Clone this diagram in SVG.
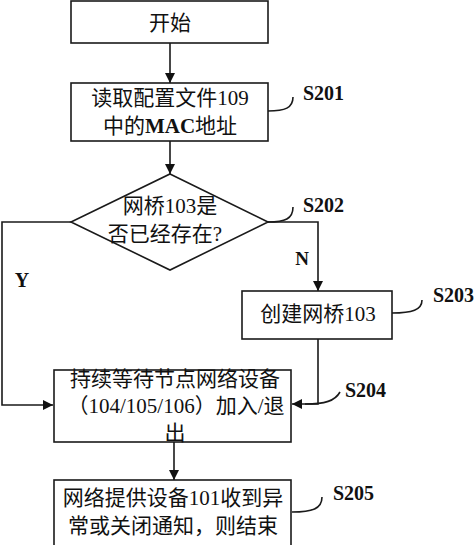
<svg xmlns="http://www.w3.org/2000/svg" width="474" height="545" viewBox="0 0 474 545">
<defs>
<style>
.box{fill:#fff;stroke:#1a1a1a;stroke-width:1.6}
.ln{fill:none;stroke:#1a1a1a;stroke-width:1.6}
.t{font-family:"Liberation Serif","Noto Sans CJK SC",serif;font-size:21px;fill:#111;text-anchor:middle}
.lbl{font-family:"Liberation Serif",serif;font-size:20px;font-weight:bold;fill:#111}
</style>
<marker id="ah" viewBox="0 0 10 10" refX="10" refY="5" markerWidth="10" markerHeight="10" markerUnits="userSpaceOnUse" orient="auto">
<path d="M0,0 L10,5 L0,10 Z" fill="#111"/>
</marker>
</defs>
<rect width="474" height="545" fill="#fff"/>
<g id="connectors">
<path class="ln" d="M170,43 V83" marker-end="url(#ah)"/>
<path class="ln" d="M170,141 V174" marker-end="url(#ah)"/>
<path class="ln" d="M71,222 H2 V405 H53" marker-end="url(#ah)"/>
<path class="ln" d="M268,222 H318 V291" marker-end="url(#ah)"/>
<path class="ln" d="M318,339 V404 H292" marker-end="url(#ah)"/>
<path class="ln" d="M174,442 V480" marker-end="url(#ah)"/>
<text class="lbl" x="22" y="287" text-anchor="middle">Y</text>
<text class="lbl" x="302" y="265" text-anchor="middle" style="font-size:19px">N</text>
</g>
<g id="n1">
<rect class="box" x="71" y="1" width="197" height="42"/>
<text class="t" x="170" y="30">开始</text>
</g>
<g id="n2">
<rect class="box" x="71" y="83" width="197" height="58"/>
<text class="t" x="170" y="105">读取配置文件109</text>
<text class="t" x="170" y="133">中的<tspan font-weight="bold">MAC</tspan>地址</text>
<path class="ln" d="M268,111 C285,111 293,108 293,97"/>
<text class="lbl" x="303" y="100">S201</text>
</g>
<g id="n3">
<polygon class="box" points="170,174 268,222 170,270 71,222"/>
<text class="t" x="170" y="213">网桥103是</text>
<text class="t" x="165" y="241">否已经存在?</text>
<path class="ln" d="M268,222 C285,222 293,219 293,207"/>
<text class="lbl" x="303" y="212">S202</text>
</g>
<g id="n4">
<rect class="box" x="242" y="291" width="150" height="48"/>
<text class="t" x="318" y="321">创建网桥103</text>
<path class="ln" d="M392,313 C412,313 422,310 422,300"/>
<text class="lbl" x="433" y="302">S203</text>
</g>
<g id="n5">
<rect class="box" x="54" y="370" width="237" height="72"/>
<text class="t" x="175" y="386">持续等待节点网络设备</text>
<text class="t" x="176" y="413">（104/105/106）加入/退</text>
<text class="t" x="175" y="440">出</text>
<path class="ln" d="M305,404 C325,404 335,401 340,392"/>
<text class="lbl" x="345" y="397">S204</text>
</g>
<g id="n6">
<rect class="box" x="54" y="480" width="237" height="70"/>
<text class="t" x="173" y="505">网络提供设备101收到异</text>
<text class="t" x="173" y="533">常或关闭通知，则结束</text>
<path class="ln" d="M292,512 C312,512 322,509 322,497"/>
<text class="lbl" x="333" y="500">S205</text>
</g>
</svg>
